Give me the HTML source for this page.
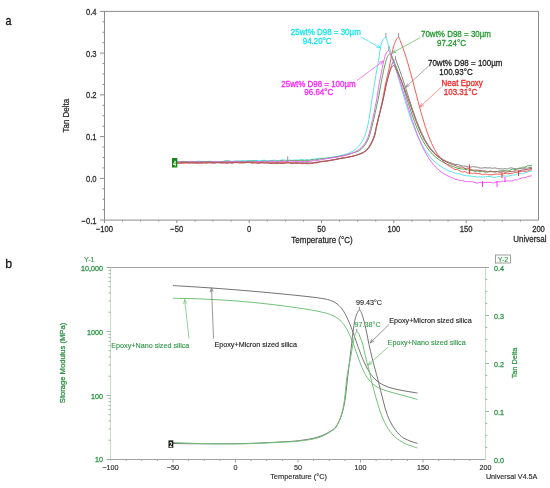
<!DOCTYPE html>
<html><head><meta charset="utf-8"><style>
html,body{margin:0;padding:0;background:#fff;}
body{width:550px;height:488px;overflow:hidden;}
svg{display:block;}
</style></head><body>
<svg width="550" height="488" viewBox="0 0 550 488">
<g>
<rect width="550" height="488" fill="#fff"/>
<g stroke="#8c8c8c" stroke-width="1" fill="none">
<rect x="104.5" y="11.4" width="434" height="208.7"/>
<line x1="100" y1="11.4" x2="104.5" y2="11.4"/>
<line x1="102.5" y1="21.84" x2="104.5" y2="21.84"/>
<line x1="102.5" y1="32.27" x2="104.5" y2="32.27"/>
<line x1="102.5" y1="42.7" x2="104.5" y2="42.7"/>
<line x1="100" y1="53.14" x2="104.5" y2="53.14"/>
<line x1="102.5" y1="63.58" x2="104.5" y2="63.58"/>
<line x1="102.5" y1="74.01" x2="104.5" y2="74.01"/>
<line x1="102.5" y1="84.44" x2="104.5" y2="84.44"/>
<line x1="100" y1="94.88" x2="104.5" y2="94.88"/>
<line x1="102.5" y1="105.31" x2="104.5" y2="105.31"/>
<line x1="102.5" y1="115.75" x2="104.5" y2="115.75"/>
<line x1="102.5" y1="126.19" x2="104.5" y2="126.19"/>
<line x1="100" y1="136.62" x2="104.5" y2="136.62"/>
<line x1="102.5" y1="147.06" x2="104.5" y2="147.06"/>
<line x1="102.5" y1="157.49" x2="104.5" y2="157.49"/>
<line x1="102.5" y1="167.92" x2="104.5" y2="167.92"/>
<line x1="100" y1="178.36" x2="104.5" y2="178.36"/>
<line x1="102.5" y1="188.8" x2="104.5" y2="188.8"/>
<line x1="102.5" y1="199.23" x2="104.5" y2="199.23"/>
<line x1="102.5" y1="209.66" x2="104.5" y2="209.66"/>
<line x1="100" y1="220.1" x2="104.5" y2="220.1"/>
<line x1="104.5" y1="220.1" x2="104.5" y2="223.1"/>
<line x1="122.58" y1="220.1" x2="122.58" y2="221.6"/>
<line x1="140.67" y1="220.1" x2="140.67" y2="221.6"/>
<line x1="158.75" y1="220.1" x2="158.75" y2="221.6"/>
<line x1="176.83" y1="220.1" x2="176.83" y2="223.1"/>
<line x1="194.92" y1="220.1" x2="194.92" y2="221.6"/>
<line x1="213" y1="220.1" x2="213" y2="221.6"/>
<line x1="231.08" y1="220.1" x2="231.08" y2="221.6"/>
<line x1="249.17" y1="220.1" x2="249.17" y2="223.1"/>
<line x1="267.25" y1="220.1" x2="267.25" y2="221.6"/>
<line x1="285.33" y1="220.1" x2="285.33" y2="221.6"/>
<line x1="303.42" y1="220.1" x2="303.42" y2="221.6"/>
<line x1="321.5" y1="220.1" x2="321.5" y2="223.1"/>
<line x1="339.58" y1="220.1" x2="339.58" y2="221.6"/>
<line x1="357.67" y1="220.1" x2="357.67" y2="221.6"/>
<line x1="375.75" y1="220.1" x2="375.75" y2="221.6"/>
<line x1="393.83" y1="220.1" x2="393.83" y2="223.1"/>
<line x1="411.92" y1="220.1" x2="411.92" y2="221.6"/>
<line x1="430" y1="220.1" x2="430" y2="221.6"/>
<line x1="448.08" y1="220.1" x2="448.08" y2="221.6"/>
<line x1="466.17" y1="220.1" x2="466.17" y2="223.1"/>
<line x1="484.25" y1="220.1" x2="484.25" y2="221.6"/>
<line x1="502.33" y1="220.1" x2="502.33" y2="221.6"/>
<line x1="520.42" y1="220.1" x2="520.42" y2="221.6"/>
</g>
<text transform="translate(96.5 14.9) scale(0.93 1)" font-family="Liberation Sans, Arial, sans-serif" font-size="8.2" fill="#2a2a2a" stroke="#2a2a2a" stroke-width="0.26" text-anchor="end">0.4</text>
<text transform="translate(96.5 56.64) scale(0.93 1)" font-family="Liberation Sans, Arial, sans-serif" font-size="8.2" fill="#2a2a2a" stroke="#2a2a2a" stroke-width="0.26" text-anchor="end">0.3</text>
<text transform="translate(96.5 98.38) scale(0.93 1)" font-family="Liberation Sans, Arial, sans-serif" font-size="8.2" fill="#2a2a2a" stroke="#2a2a2a" stroke-width="0.26" text-anchor="end">0.2</text>
<text transform="translate(96.5 140.12) scale(0.93 1)" font-family="Liberation Sans, Arial, sans-serif" font-size="8.2" fill="#2a2a2a" stroke="#2a2a2a" stroke-width="0.26" text-anchor="end">0.1</text>
<text transform="translate(96.5 181.86) scale(0.93 1)" font-family="Liberation Sans, Arial, sans-serif" font-size="8.2" fill="#2a2a2a" stroke="#2a2a2a" stroke-width="0.26" text-anchor="end">0.0</text>
<text transform="translate(96.5 223.6) scale(0.93 1)" font-family="Liberation Sans, Arial, sans-serif" font-size="8.2" fill="#2a2a2a" stroke="#2a2a2a" stroke-width="0.26" text-anchor="end">−0.1</text>
<text transform="translate(104.5 231.8) scale(0.93 1)" font-family="Liberation Sans, Arial, sans-serif" font-size="8.2" fill="#2a2a2a" stroke="#2a2a2a" stroke-width="0.26" text-anchor="middle">−100</text>
<text transform="translate(176.83 231.8) scale(0.93 1)" font-family="Liberation Sans, Arial, sans-serif" font-size="8.2" fill="#2a2a2a" stroke="#2a2a2a" stroke-width="0.26" text-anchor="middle">−50</text>
<text transform="translate(249.17 231.8) scale(0.93 1)" font-family="Liberation Sans, Arial, sans-serif" font-size="8.2" fill="#2a2a2a" stroke="#2a2a2a" stroke-width="0.26" text-anchor="middle">0</text>
<text transform="translate(321.5 231.8) scale(0.93 1)" font-family="Liberation Sans, Arial, sans-serif" font-size="8.2" fill="#2a2a2a" stroke="#2a2a2a" stroke-width="0.26" text-anchor="middle">50</text>
<text transform="translate(393.83 231.8) scale(0.93 1)" font-family="Liberation Sans, Arial, sans-serif" font-size="8.2" fill="#2a2a2a" stroke="#2a2a2a" stroke-width="0.26" text-anchor="middle">100</text>
<text transform="translate(466.17 231.8) scale(0.93 1)" font-family="Liberation Sans, Arial, sans-serif" font-size="8.2" fill="#2a2a2a" stroke="#2a2a2a" stroke-width="0.26" text-anchor="middle">150</text>
<text transform="translate(538.5 231.8) scale(0.93 1)" font-family="Liberation Sans, Arial, sans-serif" font-size="8.2" fill="#2a2a2a" stroke="#2a2a2a" stroke-width="0.26" text-anchor="middle">200</text>
<text transform="translate(322 242.5) scale(0.94 1)" font-family="Liberation Sans, Arial, sans-serif" font-size="8.5" fill="#2a2a2a" stroke="#2a2a2a" stroke-width="0.26" text-anchor="middle">Temperature (°C)</text>
<text transform="translate(546.5 242.4) scale(0.94 1)" font-family="Liberation Sans, Arial, sans-serif" font-size="8.5" fill="#2a2a2a" stroke="#2a2a2a" stroke-width="0.26" text-anchor="end">Universal</text>
<text transform="translate(68.6 115.7) rotate(-90) scale(0.94 1)" font-family="Liberation Sans, Arial, sans-serif" font-size="8.5" fill="#2a2a2a" stroke="#2a2a2a" stroke-width="0.26" text-anchor="middle">Tan Delta</text>
<text transform="translate(5.5 24.8) scale(0.84 1)" font-family="Liberation Sans, Arial, sans-serif" font-size="12.8" fill="#111" stroke="#111" stroke-width="0.26">a</text>
<path d="M177 161.47C177.42 161.58 178.66 162.01 179.5 162.1C180.33 162.19 181.17 162.1 182 162.01C182.84 161.92 183.66 161.58 184.5 161.54C185.33 161.5 186.17 161.72 187 161.74C187.83 161.77 188.67 161.67 189.5 161.69C190.33 161.71 191.17 161.81 192 161.86C192.83 161.9 193.67 162.05 194.5 161.97C195.34 161.88 196.16 161.45 197 161.33C197.83 161.21 198.67 161.15 199.5 161.26C200.34 161.36 201.16 161.92 202 161.97C202.83 162.02 203.67 161.61 204.5 161.59C205.33 161.58 206.17 161.94 207 161.88C207.84 161.81 208.66 161.23 209.5 161.18C210.33 161.13 211.17 161.46 212 161.57C212.83 161.67 213.67 161.84 214.5 161.8C215.34 161.76 216.17 161.3 217 161.32C217.84 161.33 218.66 161.83 219.5 161.91C220.33 161.99 221.18 161.97 222 161.82C222.84 161.67 223.66 161.13 224.5 160.99C225.32 160.84 226.17 160.87 227 160.93C227.84 160.99 228.67 161.23 229.5 161.35C230.33 161.47 231.17 161.69 232 161.66C232.84 161.62 233.66 161.23 234.5 161.1C235.33 160.98 236.17 160.92 237 160.9C237.83 160.89 238.67 161.08 239.5 161.04C240.34 161 241.16 160.68 242 160.64C242.83 160.59 243.67 160.71 244.5 160.76C245.33 160.8 246.17 160.88 247 160.9C247.83 160.93 248.67 160.95 249.5 160.91C250.33 160.86 251.17 160.68 252 160.62C252.83 160.56 253.67 160.59 254.5 160.57C255.33 160.55 256.17 160.49 257 160.51C257.83 160.52 258.67 160.68 259.5 160.67C260.33 160.67 261.17 160.55 262 160.47C262.83 160.39 263.67 160.12 264.5 160.18C265.34 160.24 266.16 160.8 267 160.86C267.83 160.92 268.67 160.61 269.5 160.56C270.33 160.52 271.17 160.66 272 160.59C272.84 160.52 273.67 160.09 274.5 160.13C275.34 160.16 276.16 160.72 277 160.8C277.83 160.88 278.67 160.78 279.5 160.63C280.34 160.49 281.16 160.01 282 159.92C282.83 159.83 283.67 159.99 284.5 160.06C285.33 160.13 286.17 160.32 287 160.36C287.83 160.4 288.67 160.29 289.5 160.3C290.33 160.31 291.17 160.51 292 160.44C292.84 160.38 293.66 159.95 294.5 159.92C295.33 159.88 296.17 160.21 297 160.22C297.83 160.24 298.67 160.12 299.5 160.02C300.34 159.92 301.16 159.66 302 159.62C302.83 159.59 303.67 159.75 304.5 159.82C305.33 159.88 306.17 160 307 160.02C307.83 160.04 308.67 160.03 309.5 159.92C310.34 159.81 311.16 159.49 312 159.36C312.83 159.22 313.68 159.29 314.5 159.12C315.34 158.95 316.16 158.47 317 158.31C317.82 158.16 318.49 158.22 319.5 158.19C321.03 158.14 323.04 158.29 325.3 158.1C328.53 157.83 333.41 156.99 337 156.3C340.1 155.7 342.81 155.25 345.6 154.3C348.44 153.33 351.45 152.21 353.9 150.5C356.34 148.8 358.55 146.35 360.3 144.1C361.88 142.06 362.97 140.28 364.1 137.7C365.61 134.26 366.76 129.99 367.9 125C369.48 118.11 370.68 107.58 371.9 100C372.91 93.68 373.81 88.06 374.7 82.6C375.5 77.73 376.3 72.79 377 68.8C377.54 65.74 378.02 63.6 378.5 60.7C379.06 57.34 379.42 53.21 380.1 49.8C380.71 46.72 381.39 43.17 382.3 41.1C382.87 39.81 383.49 38.84 384.2 38.2C384.73 37.72 385.43 37.11 385.9 37.3C386.63 37.59 386.9 40.18 387.4 41.65C387.9 43.14 388.4 44.66 388.9 46.18C389.4 47.73 389.9 49.29 390.4 50.87C390.9 52.47 391.4 54.09 391.9 55.71C392.4 57.35 392.9 59.01 393.4 60.68C393.9 62.36 394.4 64.06 394.9 65.76C395.4 67.47 395.9 69.19 396.4 70.91C396.9 72.64 397.4 74.37 397.9 76.11C398.4 77.85 398.9 79.59 399.4 81.33C399.9 83.07 400.4 84.81 400.9 86.54C401.4 88.26 401.9 89.99 402.4 91.7C402.9 93.4 403.4 95.1 403.9 96.79C404.4 98.46 404.9 100.12 405.4 101.77C405.9 103.4 406.4 105.02 406.9 106.62C407.4 108.2 407.9 109.77 408.4 111.32C408.9 112.85 409.39 114.36 409.9 115.85C410.4 117.31 410.89 118.76 411.4 120.18C411.89 121.57 412.39 122.95 412.9 124.31C413.39 125.64 413.89 126.94 414.4 128.23C414.89 129.49 415.3 130.53 415.9 131.94C416.72 133.86 417.87 136.53 418.9 138.69C419.87 140.74 420.87 142.71 421.9 144.59C422.87 146.37 423.87 148.07 424.9 149.69C425.87 151.22 426.87 152.68 427.9 154.06C428.88 155.37 429.88 156.61 430.9 157.78C431.88 158.9 432.88 159.96 433.9 160.95C434.88 161.9 435.88 162.79 436.9 163.63C437.88 164.44 438.89 165.19 439.9 165.9C440.89 166.59 441.89 167.22 442.9 167.82C443.89 168.4 444.89 168.94 445.9 169.45C446.89 169.95 447.89 170.4 448.9 170.83C449.89 171.25 450.9 171.65 451.9 172.01C452.9 172.37 454.57 172.67 454.9 173.01C455.01 173.13 454.89 173.27 455 173.37C455.29 173.62 456.67 173.55 457.5 173.65C458.33 173.76 459.18 173.79 460 174C460.85 174.21 461.66 174.68 462.5 174.95C463.33 175.21 464.16 175.42 465 175.59C465.83 175.75 466.66 175.89 467.5 175.95C468.33 176.02 469.17 175.9 470 175.96C470.84 176.02 471.67 176.21 472.5 176.32C473.33 176.43 474.17 176.49 475 176.61C475.84 176.74 476.66 177.03 477.5 177.09C478.33 177.14 479.17 176.97 480 176.94C480.83 176.9 481.67 176.87 482.5 176.88C483.33 176.9 484.17 177.1 485 177.04C485.84 176.98 486.66 176.62 487.5 176.53C488.33 176.45 489.17 176.41 490 176.51C490.84 176.62 491.66 177.02 492.5 177.17C493.33 177.3 494.17 177.42 495 177.36C495.84 177.3 496.66 176.94 497.5 176.78C498.33 176.62 499.17 176.52 500 176.37C500.83 176.23 501.66 175.96 502.5 175.9C503.33 175.84 504.17 175.95 505 176.01C505.83 176.06 506.67 176.29 507.5 176.24C508.34 176.18 509.17 175.87 510 175.67C510.83 175.48 511.66 175.17 512.5 175.06C513.33 174.95 514.19 175.19 515 175.01C515.85 174.82 516.65 174.09 517.5 173.88C518.32 173.67 519.17 173.75 520 173.72C520.83 173.69 521.68 173.85 522.5 173.69C523.35 173.53 524.16 173.02 525 172.74C525.83 172.47 526.67 172.29 527.5 172.04C528.34 171.79 529.21 171.4 530 171.22C530.7 171.06 531.67 171 532 170.96" stroke="#5ae4ee" stroke-width="1" fill="none" stroke-linejoin="round"/>
<path d="M177 162.31C177.42 162.31 178.68 162.42 179.5 162.29C180.34 162.15 181.16 161.6 182 161.47C182.82 161.34 183.67 161.37 184.5 161.48C185.34 161.59 186.16 162.04 187 162.13C187.83 162.22 188.67 162.06 189.5 162.03C190.33 162 191.17 162.02 192 161.95C192.84 161.88 193.67 161.62 194.5 161.61C195.33 161.59 196.17 161.82 197 161.86C197.83 161.9 198.67 161.85 199.5 161.84C200.33 161.83 201.17 161.87 202 161.8C202.84 161.73 203.66 161.43 204.5 161.4C205.33 161.38 206.17 161.6 207 161.63C207.83 161.66 208.67 161.54 209.5 161.58C210.33 161.62 211.17 161.78 212 161.86C212.83 161.95 213.67 162.06 214.5 162.09C215.33 162.12 216.17 162.1 217 162.03C217.84 161.96 218.66 161.73 219.5 161.65C220.33 161.57 221.17 161.59 222 161.54C222.83 161.5 223.67 161.43 224.5 161.37C225.33 161.3 226.17 161.18 227 161.14C227.83 161.1 228.67 161.06 229.5 161.12C230.34 161.17 231.16 161.45 232 161.49C232.83 161.53 233.67 161.36 234.5 161.34C235.33 161.32 236.17 161.3 237 161.38C237.84 161.46 238.67 161.81 239.5 161.82C240.33 161.84 241.16 161.53 242 161.48C242.83 161.42 243.67 161.54 244.5 161.49C245.33 161.44 246.17 161.27 247 161.18C247.83 161.1 248.67 160.97 249.5 160.97C250.33 160.98 251.17 161.2 252 161.2C252.83 161.2 253.67 160.97 254.5 160.98C255.33 160.99 256.17 161.15 257 161.26C257.83 161.37 258.67 161.64 259.5 161.64C260.33 161.65 261.17 161.44 262 161.3C262.84 161.16 263.67 160.79 264.5 160.8C265.33 160.81 266.16 161.31 267 161.39C267.83 161.46 268.67 161.29 269.5 161.24C270.33 161.2 271.17 161.14 272 161.13C272.83 161.13 273.67 161.25 274.5 161.24C275.33 161.22 276.17 161.09 277 161.05C277.83 161.02 278.67 161.1 279.5 161.02C280.34 160.94 281.17 160.56 282 160.58C282.83 160.59 283.66 161.01 284.5 161.09C285.33 161.16 286.18 161.15 287 161.01C287.84 160.87 288.66 160.29 289.5 160.24C290.33 160.19 291.16 160.65 292 160.72C292.83 160.78 293.67 160.69 294.5 160.63C295.33 160.57 296.17 160.39 297 160.35C297.83 160.3 298.67 160.37 299.5 160.35C300.33 160.34 301.17 160.22 302 160.26C302.84 160.31 303.67 160.62 304.5 160.6C305.33 160.59 306.16 160.2 307 160.17C307.83 160.13 308.67 160.48 309.5 160.41C310.34 160.34 311.16 159.82 312 159.75C312.83 159.67 313.67 159.96 314.5 159.94C315.33 159.93 316.17 159.84 317 159.68C317.84 159.53 318.48 159.19 319.5 159.01C321.02 158.74 322.79 158.83 325.3 158.5C330.02 157.89 340.33 156.2 345.6 155C349.03 154.22 351.51 153.43 354 152.6C356.04 151.92 357.75 151.67 359.5 150.5C361.63 149.07 363.91 146.35 365.5 144.1C366.94 142.06 367.8 140.26 368.8 137.7C370.15 134.24 371.05 129.96 372.3 125C374.04 118.08 376.44 107.6 378 100C379.3 93.69 380.14 88.06 381.2 82.6C382.14 77.73 383.08 72.78 384 68.8C384.71 65.73 385.3 63.1 386.1 60.7C386.77 58.69 387.37 56.52 388.3 55.3C388.94 54.46 389.9 53.46 390.5 53.6C391.17 53.76 391.51 55.7 392 56.78C392.51 57.89 393.01 59.01 393.5 60.16C394.01 61.34 394.51 62.55 395 63.77C395.51 65.02 396.01 66.3 396.5 67.59C397.01 68.91 397.51 70.26 398 71.62C398.51 73.01 399 74.42 399.5 75.85C400 77.3 400.5 78.77 401 80.25C401.5 81.75 402 83.27 402.5 84.79C403 86.33 403.5 87.89 404 89.45C404.5 91.02 405 92.6 405.5 94.18C406 95.76 406.5 97.36 407 98.94C407.5 100.52 408 102.1 408.5 103.67C409 105.23 409.5 106.79 410 108.33C410.5 109.86 411 111.38 411.5 112.89C412 114.37 412.49 115.84 413 117.29C413.5 118.71 413.99 120.12 414.5 121.5C414.99 122.85 415.49 124.2 416 125.51C416.49 126.79 416.99 128.05 417.5 129.28C417.99 130.48 418.49 131.66 419 132.81C419.49 133.93 419.9 134.85 420.5 136.09C421.31 137.76 422.47 140.07 423.5 141.91C424.47 143.63 425.47 145.27 426.5 146.81C427.47 148.25 428.47 149.61 429.5 150.88C430.47 152.08 431.47 153.21 432.5 154.26C433.48 155.26 434.48 156.19 435.5 157.06C436.48 157.9 437.48 158.67 438.5 159.39C439.49 160.09 440.49 160.73 441.5 161.34C442.49 161.93 443.49 162.49 444.5 163C445.49 163.5 446.49 163.96 447.5 164.4C448.49 164.83 449.5 165.23 450.5 165.61C451.5 165.98 452.67 166.37 453.5 166.66C454.09 166.87 454.44 166.97 455 167.19C455.73 167.48 456.65 168.04 457.5 168.3C458.32 168.54 459.17 168.6 460 168.72C460.83 168.84 461.67 168.95 462.5 169.04C463.33 169.12 464.17 169.11 465 169.24C465.84 169.36 466.67 169.56 467.5 169.79C468.34 170.01 469.16 170.5 470 170.58C470.82 170.67 471.68 170.2 472.5 170.33C473.35 170.47 474.15 171.34 475 171.44C475.82 171.53 476.68 170.9 477.5 170.96C478.34 171.03 479.16 171.79 480 171.85C480.83 171.9 481.67 171.28 482.5 171.32C483.34 171.36 484.16 172.03 485 172.12C485.82 172.21 486.67 171.97 487.5 171.89C488.33 171.81 489.17 171.71 490 171.67C490.83 171.62 491.67 171.64 492.5 171.64C493.33 171.64 494.17 171.71 495 171.69C495.83 171.66 496.67 171.59 497.5 171.48C498.34 171.36 499.16 171.13 500 170.99C500.83 170.86 501.66 170.7 502.5 170.66C503.33 170.61 504.17 170.68 505 170.72C505.83 170.76 506.67 170.97 507.5 170.88C508.34 170.79 509.17 170.45 510 170.17C510.84 169.88 511.65 169.27 512.5 169.17C513.32 169.07 514.17 169.57 515 169.54C515.84 169.5 516.66 169.1 517.5 168.94C518.33 168.79 519.19 168.88 520 168.61C520.86 168.33 521.64 167.47 522.5 167.25C523.31 167.04 524.19 167.45 525 167.23C525.86 167 526.64 166.05 527.5 165.81C528.31 165.58 529.23 165.9 530 165.75C530.72 165.61 531.67 165.12 532 164.99" stroke="#52aa52" stroke-width="1" fill="none" stroke-linejoin="round"/>
<path d="M177 161.76C177.42 161.81 178.67 162.01 179.5 162.03C180.33 162.04 181.17 161.85 182 161.86C182.83 161.86 183.67 162.02 184.5 162.05C185.33 162.09 186.17 162.14 187 162.06C187.84 161.97 188.66 161.64 189.5 161.54C190.33 161.45 191.17 161.37 192 161.48C192.84 161.59 193.66 162.18 194.5 162.21C195.33 162.24 196.16 161.77 197 161.67C197.83 161.58 198.67 161.53 199.5 161.64C200.34 161.74 201.16 162.28 202 162.31C202.83 162.34 203.66 161.85 204.5 161.82C205.33 161.79 206.17 162.14 207 162.14C207.83 162.13 208.67 161.83 209.5 161.8C210.33 161.77 211.17 161.99 212 161.93C212.84 161.88 213.67 161.49 214.5 161.48C215.33 161.48 216.16 161.8 217 161.9C217.83 162 218.67 162.12 219.5 162.1C220.33 162.08 221.17 161.8 222 161.77C222.83 161.75 223.67 161.94 224.5 161.96C225.33 161.97 226.17 161.98 227 161.88C227.84 161.77 228.67 161.31 229.5 161.32C230.33 161.33 231.16 161.86 232 161.93C232.83 162 233.67 161.84 234.5 161.77C235.33 161.69 236.17 161.58 237 161.49C237.83 161.4 238.67 161.16 239.5 161.24C240.34 161.31 241.16 161.91 242 161.97C242.83 162.03 243.67 161.63 244.5 161.61C245.33 161.58 246.17 161.76 247 161.81C247.83 161.87 248.67 161.95 249.5 161.94C250.33 161.94 251.17 161.78 252 161.78C252.83 161.78 253.67 162 254.5 161.94C255.34 161.89 256.16 161.47 257 161.45C257.83 161.42 258.67 161.79 259.5 161.79C260.33 161.79 261.17 161.44 262 161.45C262.83 161.46 263.66 161.81 264.5 161.87C265.33 161.93 266.17 161.93 267 161.8C267.84 161.67 268.66 161.19 269.5 161.08C270.33 160.96 271.17 161.08 272 161.09C272.83 161.1 273.67 161.03 274.5 161.14C275.34 161.26 276.16 161.77 277 161.79C277.83 161.82 278.66 161.35 279.5 161.3C280.33 161.24 281.17 161.47 282 161.45C282.83 161.42 283.67 161.16 284.5 161.13C285.33 161.11 286.17 161.29 287 161.3C287.83 161.3 288.67 161.2 289.5 161.17C290.33 161.14 291.17 161.09 292 161.12C292.83 161.14 293.67 161.28 294.5 161.31C295.33 161.33 296.17 161.24 297 161.28C297.83 161.33 298.67 161.54 299.5 161.55C300.33 161.56 301.17 161.33 302 161.33C302.83 161.33 303.67 161.51 304.5 161.53C305.33 161.55 306.17 161.44 307 161.45C307.83 161.45 308.67 161.63 309.5 161.55C310.34 161.46 311.17 161.18 312 160.94C312.84 160.7 313.66 160.19 314.5 160.09C315.32 159.99 316.17 160.34 317 160.33C317.83 160.32 318.5 160.19 319.5 160.03C321.04 159.79 322.78 159.37 325.3 158.9C330.01 158.02 339.81 156.96 345.6 155.3C350.17 153.99 354.21 152.57 357.5 150.5C360.33 148.72 362.74 146.4 364.5 144.1C366.03 142.09 366.8 140.26 367.8 137.7C369.15 134.24 370.09 129.96 371.3 125C372.98 118.09 375.18 107.6 376.6 100C377.78 93.69 378.43 88.06 379.4 82.6C380.27 77.73 381.27 72.79 382.1 68.8C382.74 65.74 383.21 63.35 383.9 60.7C384.58 58.09 385.13 54.8 386.2 53C386.93 51.78 388.12 50.27 388.8 50.4C389.49 50.53 389.81 52.72 390.3 53.91C390.81 55.12 391.31 56.36 391.8 57.61C392.31 58.89 392.81 60.19 393.3 61.51C393.81 62.86 394.3 64.22 394.8 65.6C395.3 67 395.8 68.43 396.3 69.86C396.8 71.32 397.3 72.79 397.8 74.28C398.3 75.79 398.8 77.31 399.3 78.85C399.8 80.4 400.3 81.98 400.8 83.55C401.3 85.14 401.8 86.73 402.3 88.33C402.8 89.94 403.3 91.57 403.8 93.19C404.3 94.81 404.8 96.44 405.3 98.07C405.8 99.7 406.3 101.33 406.8 102.95C407.3 104.57 407.8 106.19 408.3 107.8C408.8 109.4 409.3 111 409.8 112.59C410.3 114.16 410.8 115.72 411.3 117.27C411.8 118.8 412.3 120.32 412.8 121.82C413.3 123.3 413.8 124.77 414.3 126.22C414.8 127.64 415.3 129.05 415.8 130.44C416.3 131.8 416.79 133.15 417.3 134.48C417.79 135.77 418.2 136.84 418.8 138.3C419.62 140.29 420.77 143.06 421.8 145.3C422.77 147.42 423.77 149.48 424.8 151.43C425.77 153.27 426.77 155.03 427.8 156.7C428.77 158.28 429.77 159.78 430.8 161.2C431.77 162.54 432.77 163.8 433.8 164.99C434.78 166.12 435.78 167.18 436.8 168.17C437.78 169.12 438.78 170 439.8 170.82C440.78 171.62 441.78 172.35 442.8 173.04C443.79 173.71 444.79 174.31 445.8 174.88C446.79 175.44 447.79 175.95 448.8 176.42C449.79 176.89 450.79 177.31 451.8 177.7C452.79 178.09 454.39 178.38 454.8 178.77C454.97 178.93 454.83 179.14 455 179.27C455.36 179.56 456.67 179.45 457.5 179.64C458.34 179.83 459.16 180.3 460 180.43C460.82 180.55 461.69 180.24 462.5 180.41C463.35 180.59 464.15 181.35 465 181.55C465.81 181.75 466.67 181.64 467.5 181.65C468.33 181.67 469.17 181.66 470 181.66C470.83 181.67 471.68 181.5 472.5 181.67C473.35 181.85 474.15 182.51 475 182.74C475.82 182.96 476.68 183.13 477.5 183.03C478.34 182.94 479.17 182.15 480 182.14C480.83 182.13 481.66 182.91 482.5 182.98C483.33 183.04 484.17 182.68 485 182.56C485.83 182.44 486.67 182.28 487.5 182.24C488.33 182.2 489.17 182.25 490 182.33C490.84 182.41 491.66 182.67 492.5 182.74C493.33 182.8 494.18 182.87 495 182.7C495.85 182.51 496.65 181.71 497.5 181.6C498.32 181.49 499.18 182.08 500 182C500.84 181.93 501.66 181.18 502.5 181.11C503.32 181.04 504.17 181.61 505 181.56C505.84 181.51 506.66 180.88 507.5 180.8C508.33 180.71 509.17 181.04 510 181.03C510.83 181.02 511.68 180.94 512.5 180.74C513.35 180.52 514.15 179.91 515 179.77C515.82 179.63 516.69 180.02 517.5 179.84C518.36 179.64 519.15 178.91 520 178.57C520.82 178.23 521.66 177.9 522.5 177.77C523.32 177.64 524.19 177.95 525 177.76C525.86 177.55 526.65 176.8 527.5 176.51C528.31 176.24 529.21 176.17 530 176.05C530.7 175.95 531.67 175.88 532 175.84" stroke="#f266f2" stroke-width="1" fill="none" stroke-linejoin="round"/>
<path d="M177 162.26C177.42 162.24 178.67 162.11 179.5 162.13C180.33 162.15 181.17 162.38 182 162.39C182.83 162.39 183.67 162.21 184.5 162.16C185.33 162.11 186.17 162.04 187 162.07C187.83 162.1 188.67 162.24 189.5 162.36C190.34 162.48 191.16 162.76 192 162.81C192.83 162.87 193.67 162.72 194.5 162.7C195.33 162.67 196.17 162.75 197 162.66C197.84 162.57 198.66 162.19 199.5 162.16C200.33 162.12 201.17 162.43 202 162.43C202.83 162.44 203.67 162.24 204.5 162.19C205.33 162.13 206.17 162.11 207 162.08C207.83 162.05 208.67 162.01 209.5 162.01C210.33 162.01 211.17 161.98 212 162.1C212.84 162.22 213.66 162.64 214.5 162.73C215.33 162.82 216.17 162.65 217 162.63C217.83 162.61 218.67 162.61 219.5 162.6C220.33 162.59 221.17 162.68 222 162.59C222.84 162.49 223.66 162.11 224.5 162.03C225.33 161.95 226.17 162.06 227 162.12C227.83 162.18 228.67 162.34 229.5 162.4C230.33 162.46 231.17 162.45 232 162.48C232.83 162.51 233.67 162.56 234.5 162.58C235.33 162.6 236.17 162.71 237 162.6C237.84 162.48 238.66 161.91 239.5 161.87C240.33 161.83 241.16 162.24 242 162.33C242.83 162.41 243.67 162.4 244.5 162.38C245.33 162.36 246.17 162.3 247 162.22C247.83 162.14 248.67 161.91 249.5 161.91C250.33 161.91 251.17 162.21 252 162.2C252.83 162.2 253.67 161.81 254.5 161.89C255.34 161.97 256.16 162.56 257 162.68C257.82 162.81 258.67 162.7 259.5 162.66C260.33 162.61 261.17 162.48 262 162.4C262.83 162.33 263.67 162.15 264.5 162.21C265.34 162.28 266.16 162.74 267 162.79C267.83 162.84 268.67 162.52 269.5 162.53C270.33 162.53 271.17 162.79 272 162.84C272.83 162.89 273.67 162.88 274.5 162.84C275.33 162.79 276.17 162.62 277 162.57C277.83 162.51 278.67 162.49 279.5 162.52C280.33 162.54 281.17 162.7 282 162.72C282.83 162.73 283.67 162.65 284.5 162.6C285.33 162.54 286.17 162.4 287 162.39C287.83 162.38 288.67 162.44 289.5 162.55C290.34 162.66 291.17 163.07 292 163.04C292.84 163.01 293.66 162.49 294.5 162.38C295.33 162.28 296.17 162.32 297 162.42C297.84 162.52 298.66 162.93 299.5 162.97C300.33 163.02 301.17 162.7 302 162.7C302.83 162.69 303.67 162.92 304.5 162.96C305.33 163 306.17 162.95 307 162.93C307.83 162.92 308.67 162.81 309.5 162.85C310.34 162.9 311.18 163.31 312 163.21C312.85 163.11 313.65 162.38 314.5 162.2C315.32 162.03 316.17 162.2 317 162.1C317.84 162.01 318.42 161.79 319.5 161.62C321.49 161.33 324.88 161.16 328 160.7C331.88 160.13 336.75 159.06 341 158.3C345.08 157.57 348.95 157.39 353 156.2C357.44 154.89 363 153.57 366.5 150.5C370.02 147.41 372.24 142.09 374 137.7C375.65 133.58 375.82 129.94 377 125C378.65 118.06 381.28 107.59 383 100C384.43 93.69 385.39 88.05 386.7 82.6C387.87 77.72 389.27 72.4 390.4 68.8C391.14 66.43 391.57 64.65 392.5 63C393.32 61.55 394.74 59.18 395.5 59.3C396.2 59.41 396.51 61.78 397 63.05C397.51 64.35 398 65.67 398.5 67.01C399 68.37 399.5 69.75 400 71.15C400.5 72.57 401 74.01 401.5 75.46C402 76.93 402.5 78.42 403 79.91C403.5 81.42 404 82.94 404.5 84.47C405 86.01 405.5 87.55 406 89.1C406.5 90.65 407 92.21 407.5 93.77C408 95.33 408.5 96.89 409 98.44C409.5 99.98 410 101.53 410.5 103.06C411 104.58 411.5 106.1 412 107.6C412.5 109.09 413 110.57 413.5 112.03C414 113.47 414.5 114.89 415 116.3C415.5 117.68 415.99 119.06 416.5 120.41C416.99 121.73 417.49 123.03 418 124.31C418.49 125.56 418.99 126.8 419.5 128.01C419.99 129.19 420.49 130.35 421 131.48C421.49 132.58 421.99 133.66 422.5 134.71C422.99 135.73 423.49 136.74 424 137.72C424.49 138.67 424.9 139.45 425.5 140.5C426.31 141.91 427.47 143.87 428.5 145.41C429.47 146.86 430.47 148.23 431.5 149.5C432.47 150.7 433.47 151.82 434.5 152.87C435.48 153.86 436.48 154.79 437.5 155.64C438.48 156.46 439.48 157.21 440.5 157.9C441.48 158.57 442.49 159.18 443.5 159.74C444.49 160.29 445.49 160.79 446.5 161.25C447.49 161.7 448.49 162.1 449.5 162.48C450.49 162.85 451.55 163.18 452.5 163.5C453.37 163.8 454.16 164.17 455 164.35C455.82 164.52 456.67 164.43 457.5 164.57C458.34 164.71 459.17 164.94 460 165.19C460.84 165.44 461.65 165.94 462.5 166.07C463.32 166.2 464.17 165.92 465 166C465.84 166.09 466.67 166.41 467.5 166.62C468.33 166.84 469.17 167.29 470 167.3C470.83 167.31 471.66 166.76 472.5 166.69C473.33 166.62 474.17 166.78 475 166.88C475.84 166.97 476.67 167.08 477.5 167.27C478.34 167.46 479.16 167.91 480 168.03C480.82 168.16 481.67 168.07 482.5 168.03C483.33 167.98 484.17 167.76 485 167.74C485.83 167.73 486.67 167.94 487.5 167.96C488.33 167.99 489.17 167.84 490 167.89C490.84 167.94 491.67 168.28 492.5 168.28C493.33 168.28 494.17 167.83 495 167.89C495.84 167.94 496.66 168.48 497.5 168.65C498.33 168.81 499.17 168.84 500 168.89C500.83 168.94 501.67 168.99 502.5 168.97C503.33 168.94 504.17 168.73 505 168.72C505.83 168.72 506.68 169.08 507.5 168.96C508.35 168.82 509.15 168.02 510 167.89C510.82 167.76 511.67 167.98 512.5 168.14C513.34 168.29 514.16 168.76 515 168.82C515.83 168.89 516.67 168.67 517.5 168.54C518.34 168.41 519.17 168.04 520 168.04C520.83 168.04 521.67 168.52 522.5 168.52C523.33 168.53 524.16 168.12 525 168.06C525.83 167.99 526.67 168.24 527.5 168.14C528.34 168.03 529.21 167.51 530 167.41C530.7 167.33 531.67 167.49 532 167.51" stroke="#858585" stroke-width="1" fill="none" stroke-linejoin="round"/>
<path d="M177 162.91C177.42 162.93 178.67 163 179.5 163.02C180.33 163.05 181.17 163.05 182 163.08C182.83 163.11 183.67 163.22 184.5 163.22C185.33 163.21 186.17 163.04 187 163.04C187.83 163.04 188.68 163.31 189.5 163.21C190.34 163.11 191.16 162.48 192 162.42C192.83 162.35 193.67 162.68 194.5 162.82C195.33 162.95 196.16 163.22 197 163.25C197.83 163.28 198.67 163 199.5 162.99C200.33 162.99 201.17 163.3 202 163.23C202.84 163.15 203.66 162.58 204.5 162.52C205.33 162.46 206.17 162.83 207 162.85C207.83 162.87 208.67 162.64 209.5 162.66C210.33 162.67 211.17 162.88 212 162.93C212.83 162.98 213.67 163.04 214.5 162.97C215.34 162.88 216.16 162.5 217 162.44C217.83 162.39 218.67 162.57 219.5 162.61C220.33 162.64 221.17 162.55 222 162.64C222.84 162.74 223.66 163.13 224.5 163.19C225.33 163.26 226.17 163.16 227 163.04C227.84 162.92 228.67 162.47 229.5 162.47C230.33 162.47 231.17 163.03 232 163.02C232.83 163.01 233.66 162.44 234.5 162.41C235.33 162.38 236.17 162.83 237 162.82C237.83 162.81 238.66 162.45 239.5 162.35C240.33 162.26 241.18 162.12 242 162.22C242.84 162.32 243.66 162.96 244.5 162.98C245.33 163 246.16 162.47 247 162.36C247.83 162.26 248.67 162.24 249.5 162.35C250.34 162.46 251.16 162.95 252 163.06C252.83 163.16 253.67 163.08 254.5 162.99C255.34 162.9 256.17 162.48 257 162.5C257.84 162.52 258.66 163.09 259.5 163.13C260.33 163.18 261.17 162.82 262 162.79C262.83 162.75 263.67 162.98 264.5 162.94C265.34 162.9 266.17 162.5 267 162.55C267.84 162.59 268.66 163.16 269.5 163.24C270.33 163.32 271.17 163.03 272 163.05C272.83 163.06 273.67 163.29 274.5 163.33C275.33 163.37 276.17 163.38 277 163.29C277.84 163.2 278.66 162.86 279.5 162.79C280.33 162.72 281.17 162.88 282 162.88C282.83 162.87 283.67 162.75 284.5 162.73C285.33 162.71 286.17 162.75 287 162.74C287.83 162.74 288.67 162.67 289.5 162.7C290.33 162.74 291.17 162.86 292 162.96C292.83 163.06 293.67 163.31 294.5 163.28C295.34 163.26 296.17 162.77 297 162.79C297.84 162.82 298.66 163.38 299.5 163.45C300.33 163.51 301.17 163.23 302 163.19C302.83 163.16 303.67 163.13 304.5 163.22C305.34 163.31 306.16 163.69 307 163.73C307.83 163.77 308.67 163.58 309.5 163.47C310.33 163.36 311.16 163.17 312 163.07C312.83 162.97 313.67 162.94 314.5 162.88C315.33 162.83 316.18 162.92 317 162.75C317.85 162.58 318.4 162.1 319.5 161.83C321.47 161.36 324.84 161.3 328 160.8C332.06 160.16 337.44 158.94 341.8 158.1C345.73 157.35 349.77 156.77 353 156C355.51 155.41 357.47 154.99 359.6 154.1C361.81 153.18 364.2 152.13 366 150.5C367.86 148.82 369.21 146.29 370.5 144.1C371.73 142.02 372.67 140.25 373.6 137.7C374.86 134.24 375.61 129.95 376.8 125C378.46 118.07 380.91 107.59 382.5 100C383.82 93.69 384.65 88.05 385.8 82.6C386.83 77.72 388.04 73.39 389 68.8C389.94 64.29 390.56 59.54 391.5 55.3C392.35 51.46 393.23 47.39 394.3 44.4C395.09 42.18 396.02 40.1 396.9 38.8C397.46 37.97 398.11 36.91 398.6 37C399.21 37.11 399.61 39.31 400.1 40.5C400.61 41.73 401.11 42.99 401.6 44.28C402.11 45.61 402.61 46.97 403.1 48.36C403.61 49.79 404.11 51.24 404.6 52.72C405.11 54.25 405.61 55.8 406.1 57.38C406.61 59 407.11 60.64 407.6 62.31C408.11 64.01 408.6 65.74 409.1 67.49C409.6 69.27 410.1 71.07 410.6 72.88C411.1 74.72 411.6 76.58 412.1 78.45C412.6 80.34 413.1 82.24 413.6 84.15C414.1 86.06 414.6 87.99 415.1 89.91C415.6 91.83 416.1 93.77 416.6 95.69C417.1 97.6 417.6 99.52 418.1 101.42C418.6 103.3 419.1 105.18 419.6 107.04C420.1 108.88 420.6 110.71 421.1 112.51C421.6 114.28 422.09 116.04 422.6 117.77C423.09 119.46 423.59 121.14 424.1 122.78C424.59 124.38 425.09 125.96 425.6 127.51C426.09 129.01 426.59 130.49 427.1 131.94C427.59 133.34 428 134.5 428.6 136.06C429.41 138.15 430.56 141.05 431.6 143.36C432.56 145.5 433.56 147.53 434.6 149.44C435.56 151.2 436.56 152.87 437.6 154.42C438.57 155.86 439.57 157.21 440.6 158.45C441.57 159.62 442.57 160.7 443.6 161.69C444.57 162.63 445.58 163.49 446.6 164.28C447.58 165.04 448.58 165.73 449.6 166.36C450.58 166.97 451.67 167.45 452.6 168.02C453.46 168.54 454.15 169.38 455 169.62C455.79 169.85 456.7 169.32 457.5 169.54C458.37 169.78 459.14 170.74 460 171.15C460.81 171.53 461.66 171.86 462.5 171.94C463.33 172.01 464.19 171.46 465 171.61C465.86 171.77 466.64 172.74 467.5 172.95C468.31 173.14 469.17 172.8 470 172.89C470.84 172.97 471.66 173.42 472.5 173.46C473.33 173.49 474.17 173.12 475 173.11C475.83 173.1 476.67 173.28 477.5 173.38C478.33 173.48 479.18 173.5 480 173.71C480.85 173.93 481.66 174.66 482.5 174.7C483.33 174.73 484.17 173.97 485 173.95C485.83 173.94 486.66 174.48 487.5 174.62C488.33 174.77 489.17 174.79 490 174.83C490.83 174.86 491.67 174.94 492.5 174.82C493.34 174.7 494.16 174.24 495 174.11C495.83 173.99 496.67 174.04 497.5 174.03C498.33 174.03 499.17 174.07 500 174.1C500.83 174.13 501.68 174.34 502.5 174.22C503.35 174.09 504.16 173.36 505 173.3C505.82 173.23 506.66 173.74 507.5 173.78C508.33 173.83 509.17 173.65 510 173.58C510.83 173.52 511.69 173.6 512.5 173.38C513.36 173.14 514.15 172.23 515 172.15C515.82 172.07 516.68 172.89 517.5 172.8C518.35 172.7 519.14 171.72 520 171.48C520.81 171.26 521.67 171.39 522.5 171.35C523.33 171.3 524.17 171.25 525 171.21C525.83 171.16 526.69 171.27 527.5 171.07C528.35 170.86 529.2 170.15 530 169.93C530.69 169.73 531.67 169.72 532 169.68" stroke="#f45a5a" stroke-width="1" fill="none" stroke-linejoin="round"/>
<path d="M177 163.16C177.42 163.17 178.67 163.23 179.5 163.18C180.33 163.13 181.17 162.96 182 162.87C182.83 162.79 183.67 162.74 184.5 162.66C185.33 162.59 186.17 162.37 187 162.42C187.84 162.48 188.66 162.95 189.5 163.01C190.33 163.08 191.17 162.82 192 162.83C192.83 162.84 193.67 163.1 194.5 163.09C195.33 163.07 196.17 162.73 197 162.73C197.83 162.73 198.67 163.1 199.5 163.08C200.33 163.06 201.17 162.62 202 162.63C202.83 162.63 203.66 163.03 204.5 163.1C205.33 163.16 206.17 163.08 207 163.02C207.83 162.96 208.67 162.76 209.5 162.73C210.33 162.7 211.17 162.8 212 162.84C212.83 162.88 213.67 163.01 214.5 162.96C215.34 162.91 216.17 162.54 217 162.51C217.83 162.49 218.67 162.74 219.5 162.83C220.33 162.92 221.17 163.1 222 163.05C222.84 163.01 223.67 162.56 224.5 162.56C225.33 162.56 226.16 162.98 227 163.04C227.83 163.1 228.67 162.92 229.5 162.92C230.33 162.93 231.17 163.11 232 163.06C232.84 163 233.66 162.71 234.5 162.59C235.33 162.48 236.17 162.3 237 162.37C237.84 162.44 238.66 162.9 239.5 163C240.33 163.1 241.17 163.05 242 163C242.84 162.94 243.67 162.77 244.5 162.67C245.33 162.56 246.17 162.38 247 162.34C247.83 162.3 248.67 162.35 249.5 162.43C250.34 162.51 251.17 162.82 252 162.85C252.83 162.87 253.67 162.52 254.5 162.57C255.34 162.63 256.16 163.15 257 163.2C257.83 163.25 258.67 163.01 259.5 162.91C260.33 162.8 261.17 162.57 262 162.59C262.83 162.61 263.66 163 264.5 163.03C265.33 163.07 266.17 162.75 267 162.8C267.84 162.85 268.66 163.26 269.5 163.35C270.33 163.44 271.17 163.41 272 163.36C272.84 163.31 273.67 163.07 274.5 163.04C275.33 163.01 276.17 163.15 277 163.19C277.83 163.23 278.67 163.24 279.5 163.27C280.33 163.31 281.17 163.35 282 163.4C282.83 163.45 283.68 163.69 284.5 163.59C285.34 163.49 286.16 162.85 287 162.77C287.82 162.69 288.67 163 289.5 163.1C290.33 163.2 291.17 163.35 292 163.35C292.83 163.35 293.67 163.11 294.5 163.12C295.33 163.13 296.17 163.43 297 163.41C297.83 163.39 298.67 162.94 299.5 162.99C300.34 163.04 301.16 163.66 302 163.74C302.83 163.81 303.67 163.55 304.5 163.45C305.33 163.35 306.17 163.08 307 163.12C307.84 163.15 308.67 163.64 309.5 163.64C310.33 163.64 311.16 163.25 312 163.1C312.83 162.94 313.66 162.77 314.5 162.7C315.33 162.63 316.17 162.77 317 162.67C317.84 162.56 318.41 162.27 319.5 162.07C321.49 161.69 324.87 161.41 328 160.9C331.88 160.26 336.75 159.2 341 158.4C345.08 157.63 348.97 157.42 353 156.2C357.37 154.87 362.75 153.54 366.2 150.5C369.71 147.41 372.04 142.1 373.8 137.7C375.44 133.58 375.51 129.94 376.7 125C378.37 118.06 381.24 107.6 383 100C384.47 93.69 385.3 88.04 386.7 82.6C387.96 77.7 389.63 71.57 390.9 68.8C391.5 67.5 391.95 66.61 392.6 66.1C393.06 65.74 393.66 65.43 394.1 65.6C394.72 65.84 395.11 67.4 395.6 68.33C396.11 69.29 396.61 70.27 397.1 71.27C397.61 72.3 398.11 73.34 398.6 74.41C399.11 75.51 399.61 76.62 400.1 77.76C400.61 78.93 401.11 80.11 401.6 81.32C402.11 82.55 402.6 83.81 403.1 85.08C403.61 86.38 404.1 87.69 404.6 89.02C405.1 90.37 405.6 91.74 406.1 93.11C406.6 94.5 407.1 95.9 407.6 97.31C408.1 98.73 408.6 100.17 409.1 101.6C409.6 103.04 410.1 104.48 410.6 105.92C411.1 107.36 411.6 108.79 412.1 110.22C412.6 111.64 413.1 113.06 413.6 114.47C414.1 115.86 414.6 117.24 415.1 118.6C415.6 119.94 416.09 121.28 416.6 122.59C417.1 123.88 417.59 125.15 418.1 126.4C418.59 127.62 419.09 128.82 419.6 130C420.09 131.15 420.59 132.28 421.1 133.38C421.59 134.45 422.09 135.5 422.6 136.52C423.09 137.51 423.5 138.33 424.1 139.43C424.91 140.9 426.07 142.93 427.1 144.54C428.07 146.05 429.07 147.47 430.1 148.8C431.07 150.05 432.07 151.22 433.1 152.31C434.08 153.35 435.08 154.31 436.1 155.21C437.08 156.07 438.08 156.87 439.1 157.61C440.08 158.33 441.09 159 442.1 159.62C443.09 160.23 444.09 160.79 445.1 161.32C446.09 161.84 447.09 162.32 448.1 162.77C449.09 163.22 450.1 163.63 451.1 164.02C452.1 164.41 453.38 165 454.1 165.12C454.48 165.18 454.64 165 455 165.09C455.65 165.26 456.64 166.26 457.5 166.61C458.31 166.93 459.16 167.08 460 167.15C460.83 167.22 461.69 166.84 462.5 167.04C463.36 167.25 464.14 168.29 465 168.47C465.81 168.63 466.68 168.08 467.5 168.16C468.34 168.25 469.17 168.69 470 169C470.84 169.32 471.65 169.89 472.5 170.08C473.32 170.26 474.17 170.14 475 170.16C475.83 170.17 476.67 170.1 477.5 170.16C478.34 170.23 479.17 170.44 480 170.55C480.83 170.66 481.67 170.8 482.5 170.83C483.33 170.87 484.19 170.6 485 170.77C485.85 170.95 486.66 171.89 487.5 171.93C488.33 171.96 489.16 171.1 490 171.04C490.83 170.99 491.67 171.4 492.5 171.56C493.33 171.72 494.17 171.97 495 171.99C495.83 172 496.67 171.59 497.5 171.64C498.34 171.68 499.17 172.31 500 172.28C500.84 172.24 501.66 171.45 502.5 171.43C503.33 171.41 504.16 172.08 505 172.16C505.83 172.24 506.67 172.05 507.5 171.95C508.34 171.85 509.16 171.61 510 171.55C510.83 171.49 511.67 171.71 512.5 171.6C513.34 171.49 514.16 170.97 515 170.88C515.83 170.79 516.67 171.07 517.5 171.04C518.33 171.01 519.17 170.86 520 170.7C520.84 170.53 521.66 170.22 522.5 170.04C523.33 169.86 524.16 169.71 525 169.61C525.83 169.51 526.68 169.6 527.5 169.45C528.34 169.29 529.21 168.85 530 168.67C530.7 168.51 531.67 168.43 532 168.38" stroke="#a85a5a" stroke-width="1" fill="none" stroke-linejoin="round"/>
<g stroke="#888" stroke-width="0.9">
<line x1="385.9" y1="33" x2="385.9" y2="37.5"/>
<line x1="398.6" y1="33" x2="398.6" y2="37.2"/>
<line x1="388.8" y1="46.3" x2="388.8" y2="50.5"/>
<line x1="395.5" y1="56.2" x2="395.5" y2="59.5"/>
<line x1="287.7" y1="156.3" x2="287.7" y2="162"/>
</g>
<g stroke="#f42020" stroke-width="0.9">
<line x1="469.5" y1="164.5" x2="469.5" y2="174"/>
<line x1="502" y1="172" x2="502" y2="178"/>
<line x1="518.5" y1="170.5" x2="518.5" y2="176"/>
</g>
<g stroke="#ff1aff" stroke-width="0.9">
<line x1="482.5" y1="181" x2="482.5" y2="187"/>
<line x1="497" y1="181" x2="497" y2="187"/>
<line x1="505" y1="177" x2="505" y2="181.5"/>
</g>
<text transform="translate(290.8 35.4) scale(0.94 1)" font-family="Liberation Sans, Arial, sans-serif" font-size="8.5" fill="#10e4ee" stroke="#10e4ee" stroke-width="0.26">25wt% D98 = 30µm</text><text transform="translate(302.7 43.8) scale(0.94 1)" font-family="Liberation Sans, Arial, sans-serif" font-size="8.5" fill="#10e4ee" stroke="#10e4ee" stroke-width="0.26">94.20°C</text>
<g stroke="#38e4ee" stroke-width="0.75" fill="none"><line x1="361" y1="37" x2="380.7" y2="48"/><polyline points="376.17,47.23 380.7,48 377.66,44.55"/></g>
<text transform="translate(421 37) scale(0.94 1)" font-family="Liberation Sans, Arial, sans-serif" font-size="8.5" fill="#1f962a" stroke="#1f962a" stroke-width="0.26">70wt% D98 = 30µm</text><text transform="translate(437 46.2) scale(0.94 1)" font-family="Liberation Sans, Arial, sans-serif" font-size="8.5" fill="#1f962a" stroke="#1f962a" stroke-width="0.26">97.24°C</text>
<g stroke="#6cb86c" stroke-width="0.75" fill="none"><line x1="420.5" y1="37.5" x2="392" y2="53"/><polyline points="395.08,49.58 392,53 396.54,52.28"/></g>
<text transform="translate(428 66) scale(0.94 1)" font-family="Liberation Sans, Arial, sans-serif" font-size="8.5" fill="#222" stroke="#222" stroke-width="0.26">70wt% D98 = 100µm</text><text transform="translate(439.3 74.5) scale(0.94 1)" font-family="Liberation Sans, Arial, sans-serif" font-size="8.5" fill="#222" stroke="#222" stroke-width="0.26">100.93°C</text>
<g stroke="#8a8a8a" stroke-width="0.75" fill="none"><line x1="428.5" y1="66" x2="405.5" y2="87.5"/><polyline points="407.62,83.42 405.5,87.5 409.72,85.66"/></g>
<text transform="translate(441.6 86.3) scale(0.94 1)" font-family="Liberation Sans, Arial, sans-serif" font-size="8.5" fill="#f42020" stroke="#f42020" stroke-width="0.26">Neat Epoxy</text><text transform="translate(443.8 95.4) scale(0.94 1)" font-family="Liberation Sans, Arial, sans-serif" font-size="8.5" fill="#f42020" stroke="#f42020" stroke-width="0.26">103.31°C</text>
<g stroke="#ff7070" stroke-width="0.75" fill="none"><line x1="441.5" y1="87" x2="419.5" y2="107.3"/><polyline points="421.65,103.23 419.5,107.3 423.73,105.49"/></g>
<text transform="translate(281.3 86.5) scale(0.94 1)" font-family="Liberation Sans, Arial, sans-serif" font-size="8.5" fill="#ff1aff" stroke="#ff1aff" stroke-width="0.26">25wt% D98 = 100µm</text><text transform="translate(304.3 95) scale(0.94 1)" font-family="Liberation Sans, Arial, sans-serif" font-size="8.5" fill="#ff1aff" stroke="#ff1aff" stroke-width="0.26">96.64°C</text>
<g stroke="#f45cf4" stroke-width="0.75" fill="none"><line x1="357" y1="80.5" x2="383.3" y2="61"/><polyline points="380.73,64.82 383.3,61 378.9,62.35"/></g>
<rect x="172" y="158" width="5.3" height="9.5" fill="#148a14"/>
<text transform="translate(174.6 165.6) scale(0.62 1)" font-family="Liberation Sans, Arial, sans-serif" font-size="8" fill="#fff" stroke="#fff" stroke-width="0.26" text-anchor="middle">4</text>
<line x1="110.5" y1="267.5" x2="110.5" y2="461" stroke="#c2dcc7"/>
<line x1="485.5" y1="267.5" x2="485.5" y2="459.5" stroke="#c2dcc7"/>
<line x1="106.5" y1="267.5" x2="489" y2="267.5" stroke="#a2a2a2"/>
<line x1="106.5" y1="459.5" x2="485.5" y2="459.5" stroke="#a2a2a2"/>
<g stroke="#98b89f" stroke-width="1">
<line x1="108.5" y1="440.23" x2="110.5" y2="440.23"/>
<line x1="108.5" y1="428.96" x2="110.5" y2="428.96"/>
<line x1="108.5" y1="420.97" x2="110.5" y2="420.97"/>
<line x1="108.5" y1="414.77" x2="110.5" y2="414.77"/>
<line x1="108.5" y1="409.7" x2="110.5" y2="409.7"/>
<line x1="108.5" y1="405.41" x2="110.5" y2="405.41"/>
<line x1="108.5" y1="401.7" x2="110.5" y2="401.7"/>
<line x1="108.5" y1="398.43" x2="110.5" y2="398.43"/>
<line x1="106.5" y1="395.5" x2="110.5" y2="395.5"/>
<line x1="108.5" y1="376.23" x2="110.5" y2="376.23"/>
<line x1="108.5" y1="364.96" x2="110.5" y2="364.96"/>
<line x1="108.5" y1="356.97" x2="110.5" y2="356.97"/>
<line x1="108.5" y1="350.77" x2="110.5" y2="350.77"/>
<line x1="108.5" y1="345.7" x2="110.5" y2="345.7"/>
<line x1="108.5" y1="341.41" x2="110.5" y2="341.41"/>
<line x1="108.5" y1="337.7" x2="110.5" y2="337.7"/>
<line x1="108.5" y1="334.43" x2="110.5" y2="334.43"/>
<line x1="106.5" y1="331.5" x2="110.5" y2="331.5"/>
<line x1="108.5" y1="312.23" x2="110.5" y2="312.23"/>
<line x1="108.5" y1="300.96" x2="110.5" y2="300.96"/>
<line x1="108.5" y1="292.97" x2="110.5" y2="292.97"/>
<line x1="108.5" y1="286.77" x2="110.5" y2="286.77"/>
<line x1="108.5" y1="281.7" x2="110.5" y2="281.7"/>
<line x1="108.5" y1="277.41" x2="110.5" y2="277.41"/>
<line x1="108.5" y1="273.7" x2="110.5" y2="273.7"/>
<line x1="108.5" y1="270.43" x2="110.5" y2="270.43"/>
<line x1="485.5" y1="447.5" x2="487.3" y2="447.5"/>
<line x1="485.5" y1="435.5" x2="487.3" y2="435.5"/>
<line x1="485.5" y1="423.5" x2="487.3" y2="423.5"/>
<line x1="485.5" y1="411.5" x2="489" y2="411.5"/>
<line x1="485.5" y1="399.5" x2="487.3" y2="399.5"/>
<line x1="485.5" y1="387.5" x2="487.3" y2="387.5"/>
<line x1="485.5" y1="375.5" x2="487.3" y2="375.5"/>
<line x1="485.5" y1="363.5" x2="489" y2="363.5"/>
<line x1="485.5" y1="351.5" x2="487.3" y2="351.5"/>
<line x1="485.5" y1="339.5" x2="487.3" y2="339.5"/>
<line x1="485.5" y1="327.5" x2="487.3" y2="327.5"/>
<line x1="485.5" y1="315.5" x2="489" y2="315.5"/>
<line x1="485.5" y1="303.5" x2="487.3" y2="303.5"/>
<line x1="485.5" y1="291.5" x2="487.3" y2="291.5"/>
<line x1="485.5" y1="279.5" x2="487.3" y2="279.5"/>
</g>
<g stroke="#a2a2a2" stroke-width="1">
<line x1="126.12" y1="459.5" x2="126.12" y2="461"/>
<line x1="141.75" y1="459.5" x2="141.75" y2="461"/>
<line x1="157.38" y1="459.5" x2="157.38" y2="461"/>
<line x1="173" y1="459.5" x2="173" y2="462.5"/>
<line x1="188.62" y1="459.5" x2="188.62" y2="461"/>
<line x1="204.25" y1="459.5" x2="204.25" y2="461"/>
<line x1="219.88" y1="459.5" x2="219.88" y2="461"/>
<line x1="235.5" y1="459.5" x2="235.5" y2="462.5"/>
<line x1="251.12" y1="459.5" x2="251.12" y2="461"/>
<line x1="266.75" y1="459.5" x2="266.75" y2="461"/>
<line x1="282.38" y1="459.5" x2="282.38" y2="461"/>
<line x1="298" y1="459.5" x2="298" y2="462.5"/>
<line x1="313.62" y1="459.5" x2="313.62" y2="461"/>
<line x1="329.25" y1="459.5" x2="329.25" y2="461"/>
<line x1="344.88" y1="459.5" x2="344.88" y2="461"/>
<line x1="360.5" y1="459.5" x2="360.5" y2="462.5"/>
<line x1="376.12" y1="459.5" x2="376.12" y2="461"/>
<line x1="391.75" y1="459.5" x2="391.75" y2="461"/>
<line x1="407.38" y1="459.5" x2="407.38" y2="461"/>
<line x1="423" y1="459.5" x2="423" y2="462.5"/>
<line x1="438.62" y1="459.5" x2="438.62" y2="461"/>
<line x1="454.25" y1="459.5" x2="454.25" y2="461"/>
<line x1="469.88" y1="459.5" x2="469.88" y2="461"/>
</g>
<text transform="translate(103 270.7) scale(0.935 1)" font-family="Liberation Sans, Arial, sans-serif" font-size="7.7" fill="#2f9445" stroke="#2f9445" stroke-width="0.3" text-anchor="end">10,000</text>
<text transform="translate(103 334.7) scale(0.935 1)" font-family="Liberation Sans, Arial, sans-serif" font-size="7.7" fill="#2f9445" stroke="#2f9445" stroke-width="0.3" text-anchor="end">1000</text>
<text transform="translate(103 398.7) scale(0.935 1)" font-family="Liberation Sans, Arial, sans-serif" font-size="7.7" fill="#2f9445" stroke="#2f9445" stroke-width="0.3" text-anchor="end">100</text>
<text transform="translate(103 461.9) scale(0.935 1)" font-family="Liberation Sans, Arial, sans-serif" font-size="7.7" fill="#2f9445" stroke="#2f9445" stroke-width="0.3" text-anchor="end">10</text>
<text transform="translate(84 261.6) scale(0.935 1)" font-family="Liberation Sans, Arial, sans-serif" font-size="7.7" fill="#2f9445" stroke="#2f9445" stroke-width="0.1">Y-1</text>
<text transform="translate(494 270.9) scale(0.935 1)" font-family="Liberation Sans, Arial, sans-serif" font-size="7.7" fill="#2f9445" stroke="#2f9445" stroke-width="0.3">0.4</text>
<text transform="translate(494 318.9) scale(0.935 1)" font-family="Liberation Sans, Arial, sans-serif" font-size="7.7" fill="#2f9445" stroke="#2f9445" stroke-width="0.3">0.3</text>
<text transform="translate(494 366.9) scale(0.935 1)" font-family="Liberation Sans, Arial, sans-serif" font-size="7.7" fill="#2f9445" stroke="#2f9445" stroke-width="0.3">0.2</text>
<text transform="translate(494 414.9) scale(0.935 1)" font-family="Liberation Sans, Arial, sans-serif" font-size="7.7" fill="#2f9445" stroke="#2f9445" stroke-width="0.3">0.1</text>
<text transform="translate(494 462.9) scale(0.935 1)" font-family="Liberation Sans, Arial, sans-serif" font-size="7.7" fill="#2f9445" stroke="#2f9445" stroke-width="0.3">0.0</text>
<rect x="495.5" y="255" width="15" height="8" fill="none" stroke="#888" stroke-width="0.8"/>
<text transform="translate(503 262.2) scale(0.935 1)" font-family="Liberation Sans, Arial, sans-serif" font-size="7.7" fill="#2f9445" stroke="#2f9445" stroke-width="0.1" text-anchor="middle">Y-2</text>
<text transform="translate(110.5 470) scale(0.935 1)" font-family="Liberation Sans, Arial, sans-serif" font-size="7.7" fill="#2a2a2a" stroke="#2a2a2a" stroke-width="0.14" text-anchor="middle">−100</text>
<text transform="translate(173 470) scale(0.935 1)" font-family="Liberation Sans, Arial, sans-serif" font-size="7.7" fill="#2a2a2a" stroke="#2a2a2a" stroke-width="0.14" text-anchor="middle">−50</text>
<text transform="translate(235.5 470) scale(0.935 1)" font-family="Liberation Sans, Arial, sans-serif" font-size="7.7" fill="#2a2a2a" stroke="#2a2a2a" stroke-width="0.14" text-anchor="middle">0</text>
<text transform="translate(298 470) scale(0.935 1)" font-family="Liberation Sans, Arial, sans-serif" font-size="7.7" fill="#2a2a2a" stroke="#2a2a2a" stroke-width="0.14" text-anchor="middle">50</text>
<text transform="translate(360.5 470) scale(0.935 1)" font-family="Liberation Sans, Arial, sans-serif" font-size="7.7" fill="#2a2a2a" stroke="#2a2a2a" stroke-width="0.14" text-anchor="middle">100</text>
<text transform="translate(423 470) scale(0.935 1)" font-family="Liberation Sans, Arial, sans-serif" font-size="7.7" fill="#2a2a2a" stroke="#2a2a2a" stroke-width="0.14" text-anchor="middle">150</text>
<text transform="translate(485.5 470) scale(0.935 1)" font-family="Liberation Sans, Arial, sans-serif" font-size="7.7" fill="#2a2a2a" stroke="#2a2a2a" stroke-width="0.14" text-anchor="middle">200</text>
<text transform="translate(298.6 479.1) scale(0.965 1)" font-family="Liberation Sans, Arial, sans-serif" font-size="7.7" fill="#2a2a2a" stroke="#2a2a2a" stroke-width="0.14" text-anchor="middle">Temperature (°C)</text>
<text transform="translate(485.9 479.2) scale(0.935 1)" font-family="Liberation Sans, Arial, sans-serif" font-size="7.7" fill="#2a2a2a" stroke="#2a2a2a" stroke-width="0.14">Universal V4.5A</text>
<text transform="translate(64.8 363) rotate(-90) scale(0.94 1)" font-family="Liberation Sans, Arial, sans-serif" font-size="8.1" fill="#2f9445" stroke="#2f9445" stroke-width="0.3" text-anchor="middle">Storage Modulus (MPa)</text>
<text transform="translate(517.4 363) rotate(-90) scale(0.9 1)" font-family="Liberation Sans, Arial, sans-serif" font-size="8.1" fill="#2f9445" stroke="#2f9445" stroke-width="0.26" text-anchor="middle">Tan Delta</text>
<text transform="translate(5.3 268.2) scale(0.93 1)" font-family="Liberation Sans, Arial, sans-serif" font-size="13.3" fill="#111" stroke="#111" stroke-width="0.26">b</text>
<text transform="translate(354.6 326.6) scale(0.935 1)" font-family="Liberation Sans, Arial, sans-serif" font-size="7.7" fill="#34a048" stroke="#34a048" stroke-width="0.1">97.38°C</text>
<path d="M173 285.58C174.33 285.66 178.33 285.88 181 286.04C183.67 286.2 186.33 286.36 189 286.52C191.67 286.68 194.33 286.85 197 287.02C199.67 287.19 202.33 287.37 205 287.55C207.67 287.73 210.33 287.92 213 288.11C215.67 288.3 218.33 288.49 221 288.69C223.67 288.89 226.33 289.09 229 289.29C231.67 289.5 234.33 289.71 237 289.92C239.67 290.14 242.33 290.36 245 290.58C247.67 290.8 250.33 291.03 253 291.26C255.67 291.49 258.33 291.72 261 291.96C263.67 292.2 266.33 292.44 269 292.69C271.67 292.94 274.33 293.19 277 293.44C279.67 293.7 282.33 293.96 285 294.22C287.67 294.49 290.33 294.76 293 295.03C295.67 295.3 298.33 295.58 301 295.86C303.67 296.14 306.33 296.43 309 296.73C311.67 297.04 314.34 297.32 317 297.69C319.67 298.06 322.66 298.48 325 298.97C326.87 299.36 328.97 299.96 330 300.27C330.46 300.41 330.67 300.49 331 300.61C331.33 300.73 331.67 300.86 332 301C332.33 301.14 332.67 301.29 333 301.44C333.33 301.6 333.67 301.76 334 301.93C334.34 302.11 334.67 302.29 335 302.49C335.34 302.69 335.67 302.9 336 303.12C336.34 303.35 336.67 303.58 337 303.83C337.34 304.08 337.67 304.35 338 304.63C338.34 304.92 338.67 305.22 339 305.54C339.34 305.86 339.67 306.2 340 306.55C340.34 306.91 340.67 307.3 341 307.69C341.34 308.1 341.67 308.52 342 308.96C342.34 309.41 342.67 309.88 343 310.36C343.34 310.86 343.67 311.39 344 311.92C344.34 312.47 344.67 313.04 345 313.62C345.34 314.22 345.67 314.85 346 315.48C346.34 316.13 346.67 316.81 347 317.49C347.34 318.19 347.67 318.92 348 319.65C348.34 320.41 348.67 321.18 349 321.96C349.34 322.76 349.67 323.57 350 324.39C350.34 325.23 350.67 326.09 351 326.95C351.34 327.83 351.67 328.72 352 329.61C352.34 330.52 352.67 331.44 353 332.36C353.33 333.29 353.67 334.22 354 335.16C354.33 336.11 354.67 337.06 355 338.01C355.33 338.96 355.67 339.92 356 340.87C356.33 341.82 356.67 342.77 357 343.72C357.33 344.67 357.67 345.61 358 346.55C358.33 347.48 358.67 348.4 359 349.32C359.33 350.23 359.66 351.14 360 352.03C360.33 352.91 360.66 353.79 361 354.65C361.33 355.5 361.66 356.34 362 357.17C362.33 357.98 362.66 358.79 363 359.58C363.33 360.36 363.66 361.13 364 361.88C364.33 362.62 364.66 363.34 365 364.05C365.33 364.74 365.66 365.42 366 366.09C366.33 366.74 366.66 367.38 367 368.01C367.33 368.62 367.66 369.22 368 369.8C368.33 370.37 368.66 370.92 369 371.46C369.33 371.99 369.66 372.51 370 373.01C370.33 373.5 370.66 373.98 371 374.44C371.33 374.89 371.66 375.33 372 375.76C372.33 376.18 372.66 376.59 373 376.98C373.33 377.36 373.66 377.74 374 378.1C374.33 378.45 374.66 378.8 375 379.13C375.33 379.46 375.66 379.77 376 380.08C376.33 380.38 376.66 380.67 377 380.95C377.33 381.22 377.66 381.48 378 381.74C378.33 381.99 378.66 382.24 379 382.48C379.33 382.71 379.55 382.87 380 383.15C380.88 383.69 382.65 384.72 384 385.36C385.31 385.99 386.66 386.5 388 386.98C389.32 387.45 390.66 387.85 392 388.22C393.33 388.59 394.66 388.91 396 389.22C397.33 389.53 398.67 389.79 400 390.06C401.33 390.32 402.67 390.57 404 390.81C405.33 391.05 406.67 391.28 408 391.5C409.33 391.72 410.67 391.93 412 392.15C413.33 392.36 414.99 392.63 416 392.79C416.62 392.89 417.25 392.99 417.5 393.03" stroke="#747474" stroke-width="1" fill="none" stroke-linejoin="round"/>
<path d="M173 298.32C174.33 298.33 178.33 298.37 181 298.41C183.67 298.45 186.33 298.5 189 298.57C191.67 298.64 194.33 298.72 197 298.81C199.67 298.9 202.33 299 205 299.11C207.67 299.22 210.33 299.35 213 299.49C215.67 299.63 218.33 299.78 221 299.94C223.67 300.1 226.33 300.28 229 300.46C231.67 300.65 234.33 300.84 237 301.05C239.67 301.26 242.33 301.48 245 301.71C247.67 301.94 250.33 302.19 253 302.45C255.67 302.71 258.33 302.97 261 303.25C263.67 303.53 266.33 303.83 269 304.13C271.67 304.44 274.33 304.75 277 305.08C279.67 305.41 282.33 305.75 285 306.1C287.67 306.45 290.33 306.81 293 307.19C295.67 307.57 298.33 307.96 301 308.37C303.67 308.78 306.34 309.19 309 309.64C311.67 310.09 314.34 310.53 317 311.07C319.67 311.61 322.66 312.25 325 312.87C326.87 313.37 328.97 314.06 330 314.41C330.46 314.57 330.67 314.66 331 314.79C331.33 314.92 331.67 315.06 332 315.2C332.33 315.34 332.67 315.49 333 315.64C333.33 315.8 333.67 315.96 334 316.13C334.33 316.3 334.67 316.48 335 316.66C335.34 316.85 335.67 317.04 336 317.24C336.34 317.44 336.67 317.66 337 317.88C337.34 318.11 337.67 318.34 338 318.59C338.34 318.84 338.67 319.11 339 319.38C339.34 319.66 339.67 319.95 340 320.25C340.34 320.56 340.67 320.88 341 321.21C341.34 321.55 341.67 321.91 342 322.28C342.34 322.66 342.67 323.05 343 323.46C343.34 323.88 343.67 324.32 344 324.77C344.34 325.23 344.67 325.71 345 326.21C345.34 326.72 345.67 327.26 346 327.8C346.34 328.36 346.67 328.94 347 329.53C347.34 330.15 347.67 330.78 348 331.43C348.34 332.1 348.67 332.78 349 333.48C349.34 334.2 349.67 334.93 350 335.68C350.34 336.45 350.67 337.23 351 338.03C351.34 338.85 351.67 339.68 352 340.52C352.34 341.38 352.67 342.25 353 343.13C353.34 344.02 353.67 344.93 354 345.84C354.33 346.76 354.67 347.68 355 348.61C355.33 349.55 355.67 350.49 356 351.43C356.33 352.37 356.67 353.32 357 354.26C357.33 355.2 357.67 356.13 358 357.06C358.33 357.98 358.66 358.9 359 359.81C359.33 360.7 359.66 361.59 360 362.47C360.33 363.33 360.66 364.17 361 365.01C361.33 365.83 361.66 366.64 362 367.43C362.33 368.2 362.66 368.95 363 369.69C363.33 370.41 363.66 371.11 364 371.8C364.33 372.47 364.66 373.12 365 373.75C365.33 374.36 365.66 374.96 366 375.54C366.33 376.1 366.66 376.64 367 377.17C367.33 377.68 367.66 378.16 368 378.64C368.33 379.1 368.66 379.55 369 379.98C369.33 380.4 369.66 380.8 370 381.19C370.33 381.57 370.66 381.92 371 382.27C371.33 382.61 371.66 382.94 372 383.25C372.33 383.56 372.66 383.85 373 384.13C373.33 384.4 373.66 384.67 374 384.92C374.33 385.17 374.66 385.41 375 385.64C375.33 385.87 375.66 386.09 376 386.3C376.33 386.51 376.67 386.7 377 386.89C377.33 387.08 377.66 387.26 378 387.44C378.33 387.61 378.67 387.78 379 387.94C379.33 388.1 379.55 388.21 380 388.4C380.89 388.78 382.66 389.5 384 389.98C385.33 390.46 386.66 390.88 388 391.29C389.33 391.7 390.67 392.08 392 392.46C393.33 392.84 394.67 393.2 396 393.56C397.33 393.92 398.67 394.28 400 394.64C401.33 395 402.67 395.35 404 395.71C405.33 396.07 406.67 396.43 408 396.79C409.33 397.15 410.67 397.51 412 397.88C413.33 398.25 414.99 398.71 416 398.99C416.62 399.16 417.25 399.33 417.5 399.4" stroke="#72c27a" stroke-width="1" fill="none" stroke-linejoin="round"/>
<path d="M173 443.5C177.5 443.55 190.01 443.77 200 443.8C212.46 443.84 228.35 443.92 242 443.6C254.99 443.3 269.35 442.62 280 442C287.73 441.55 293.45 441.4 300 440.5C306.44 439.62 313.62 438.48 319 436.7C323.26 435.29 327.04 433.3 330 431.5C332.23 430.14 333.84 429.31 335.5 427.3C337.79 424.53 339.85 419.8 341.4 415.5C343.1 410.78 344.04 405.52 345 400C346.08 393.79 346.46 387.04 347.3 380C348.24 372.13 349.44 363.07 350.4 355C351.3 347.43 352 339.52 352.9 333C353.62 327.74 354.21 322.6 355.2 318.8C355.89 316.14 356.73 313.81 357.6 312.2C358.17 311.15 358.8 309.79 359.4 309.8C360 309.81 360.64 311.22 361.2 312.3C362.03 313.91 362.67 316.23 363.4 318.8C364.43 322.41 365.55 327.65 366.5 332C367.42 336.22 368.07 340.21 369 344.5C369.99 349.09 371 353.5 372.3 358.7C373.9 365.09 376.19 373 378 380C379.75 386.76 381.32 393.77 383 400C384.49 405.51 385.58 410.7 387.5 415.5C389.3 419.99 391.49 424.34 394 428C396.28 431.32 398.86 434.49 401.7 436.7C404.25 438.69 407.26 439.86 410 441C412.52 442.05 416.25 443 417.5 443.4" stroke="#747474" stroke-width="1" fill="none" stroke-linejoin="round"/>
<path d="M173 442.5C177.5 442.67 190.01 443.28 200 443.5C212.46 443.78 228.35 444.02 242 443.8C254.99 443.59 269.35 442.86 280 442.3C287.73 441.9 293.44 441.81 300 441C306.44 440.2 313.63 439.3 319 437.5C323.28 436.07 327.02 433.81 330 432C332.21 430.65 333.88 429.98 335.5 428C337.75 425.25 339.54 420.37 341 416C342.63 411.13 343.6 405.66 344.5 400C345.5 393.73 345.52 387.02 346.5 380C347.6 372.11 349.67 362.27 351 355C352.03 349.36 352.94 343.94 353.8 340C354.37 337.41 354.72 335.09 355.4 333.6C355.81 332.69 356.28 331.65 356.8 331.6C357.31 331.55 358.01 332.48 358.5 333.2C359.14 334.15 359.43 335.54 360 337C360.77 338.98 361.91 341.37 362.7 344C363.67 347.22 364.16 351.06 365.1 355C366.2 359.62 367.76 364.99 369 370C370.23 374.99 371.24 380.01 372.5 385C373.77 390.01 375.1 394.98 376.6 400C378.13 405.14 379.63 410.63 381.6 415.5C383.46 420.1 385.62 424.77 388 428.5C390.02 431.68 391.93 434.28 394.6 436.7C397.51 439.33 401.26 441.63 405 443.5C408.87 445.43 415.42 447.25 417.5 448" stroke="#72c27a" stroke-width="1" fill="none" stroke-linejoin="round"/>
<g stroke="#747474" stroke-width="0.8" fill="none"><line x1="359.4" y1="306.8" x2="359.4" y2="309.8"/><line x1="356.8" y1="328.8" x2="356.8" y2="331.6"/></g>
<text transform="translate(356 304.7) scale(0.935 1)" font-family="Liberation Sans, Arial, sans-serif" font-size="7.7" fill="#222" stroke="#222" stroke-width="0.1">99.43°C</text>
<text transform="translate(389.2 323) scale(0.935 1)" font-family="Liberation Sans, Arial, sans-serif" font-size="7.7" fill="#222" stroke="#222" stroke-width="0.14">Epoxy+Micron sized silica</text>
<text transform="translate(387.6 344.9) scale(0.935 1)" font-family="Liberation Sans, Arial, sans-serif" font-size="7.7" fill="#2f9445" stroke="#2f9445" stroke-width="0.12">Epoxy+Nano sized silica</text>
<text transform="translate(214.5 347) scale(0.935 1)" font-family="Liberation Sans, Arial, sans-serif" font-size="7.7" fill="#222" stroke="#222" stroke-width="0.14">Epoxy+Micron sized silica</text>
<text transform="translate(111.3 347.5) scale(0.935 1)" font-family="Liberation Sans, Arial, sans-serif" font-size="7.7" fill="#2f9445" stroke="#2f9445" stroke-width="0.12">Epoxy+Nano sized silica</text>
<g stroke="#777" stroke-width="0.75" fill="none"><line x1="389" y1="324.5" x2="370.1" y2="342.9"/><polyline points="372.14,338.78 370.1,342.9 374.28,340.97"/></g>
<g stroke="#72c27a" stroke-width="0.75" fill="none"><line x1="388" y1="347" x2="368" y2="365.2"/><polyline points="370.17,361.15 368,365.2 372.24,363.42"/></g>
<g stroke="#777" stroke-width="0.75" fill="none"><line x1="213.5" y1="338.5" x2="211.5" y2="287.8"/><polyline points="213.2,292.07 211.5,287.8 210.14,292.19"/></g>
<g stroke="#72c27a" stroke-width="0.75" fill="none"><line x1="189" y1="338.5" x2="184.7" y2="299.5"/><polyline points="186.7,303.64 184.7,299.5 183.65,303.98"/></g>
<rect x="168.5" y="440.4" width="4.8" height="7.5" fill="#111"/>
<text transform="translate(170.9 446.7) scale(0.65 1)" font-family="Liberation Sans, Arial, sans-serif" font-size="8" fill="#fff" stroke="#fff" stroke-width="0.26" text-anchor="middle">2</text>
</g>
</svg>
</body></html>
